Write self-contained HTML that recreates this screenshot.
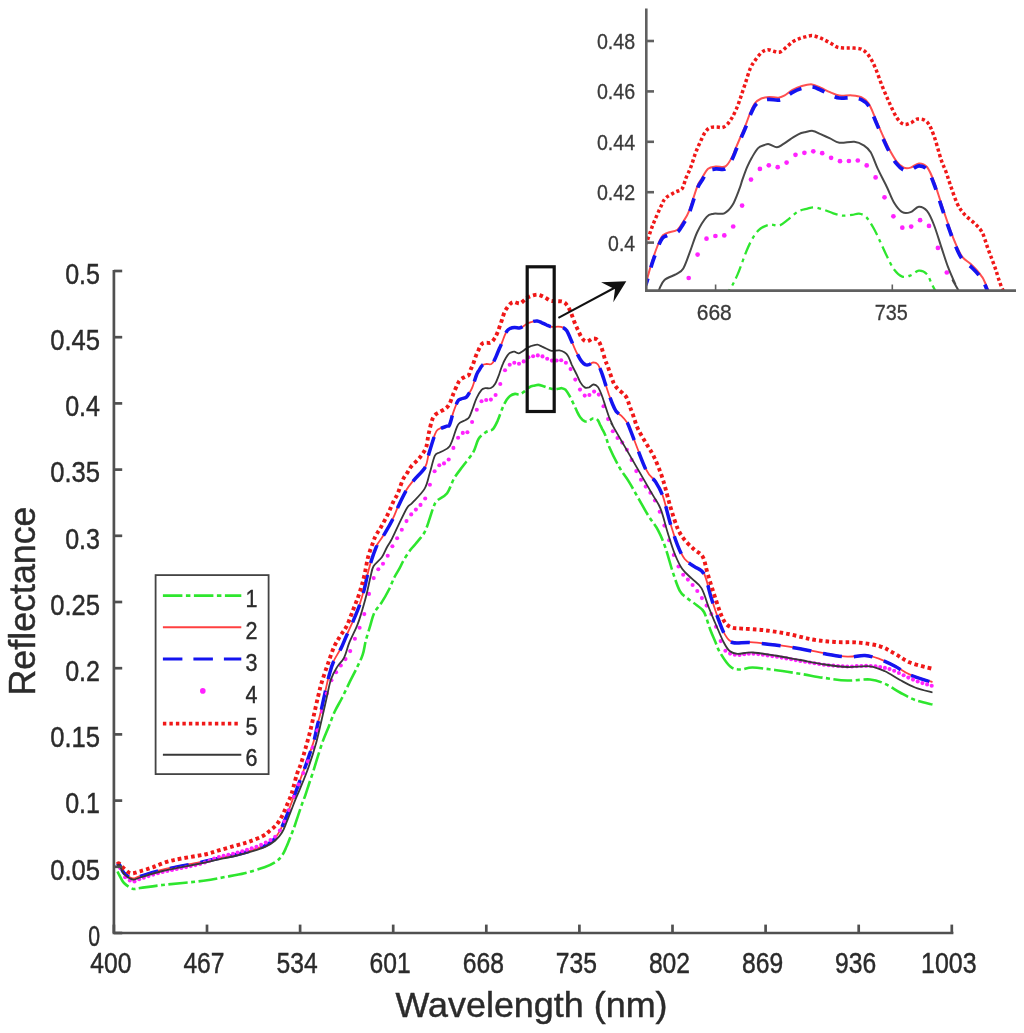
<!DOCTYPE html>
<html><head><meta charset="utf-8"><title>Reflectance</title>
<style>html,body{margin:0;padding:0;background:#fff}body{width:1024px;height:1033px;position:relative;overflow:hidden;font-family:"Liberation Sans",sans-serif}</style>
</head><body>
<svg width="1024" height="1033" viewBox="0 0 1024 1033" style="position:absolute;left:0;top:0;filter:blur(0.55px)">
<defs><clipPath id="ic"><rect x="646" y="0" width="372" height="290.6"/></clipPath></defs>
<rect width="1024" height="1033" fill="#ffffff"/>
<g>
<path d="M117.5,871.5C117.8,872.2 118.4,873.6 119.5,875.5C120.6,877.4 121.8,880.8 124.0,883.0C126.2,885.2 129.8,887.9 132.5,888.7C135.2,889.5 135.0,888.6 140.0,888.0C145.0,887.4 151.9,886.2 162.5,885.0C173.1,883.8 193.3,882.1 203.5,880.8C213.7,879.5 216.6,878.6 223.4,877.3C230.2,876.0 237.7,874.9 244.5,873.2C251.3,871.5 259.2,869.2 264.5,867.3C269.8,865.3 273.3,863.5 276.2,861.5C279.1,859.5 280.3,858.1 282.0,855.6C283.8,853.1 285.1,849.8 286.7,846.3C288.3,842.8 290.0,838.0 291.4,834.5C292.8,831.0 293.7,828.5 294.9,825.2C296.1,821.9 297.2,818.1 298.4,814.6C299.6,811.1 300.8,807.4 302.0,804.1C303.2,800.8 304.3,798.1 305.5,794.7C306.7,791.4 307.7,787.9 309.0,784.0C310.3,780.1 311.8,776.0 313.3,771.3C314.8,766.6 316.3,761.2 318.0,755.9C319.7,750.6 321.6,744.5 323.4,739.6C325.2,734.7 326.9,731.2 328.8,726.4C330.7,721.6 332.8,715.7 335.0,711.0C337.2,706.3 339.6,702.8 342.0,698.0C344.4,693.2 347.1,687.3 349.5,682.4C351.9,677.5 354.3,673.1 356.5,668.5C358.7,663.9 361.2,659.2 362.7,654.6C364.3,650.0 364.5,645.5 365.8,640.6C367.1,635.7 369.0,629.7 370.4,625.1C371.8,620.5 372.4,616.7 374.3,612.8C376.2,608.9 379.6,605.8 382.0,601.9C384.5,598.0 386.9,593.6 389.0,589.5C391.1,585.4 392.6,580.8 394.4,577.2C396.2,573.6 398.3,570.7 399.8,567.9C401.3,565.1 401.8,563.3 403.6,560.3C405.4,557.3 408.5,552.6 410.5,549.8C412.5,547.0 413.4,546.6 415.7,543.7C418.0,540.8 422.2,536.6 424.5,532.4C426.8,528.2 428.2,522.6 429.7,518.5C431.1,514.4 432.0,510.9 433.2,508.0C434.4,505.1 434.4,503.5 436.7,501.0C439.0,498.5 444.2,497.0 447.1,493.2C450.0,489.4 451.5,482.9 454.1,478.4C456.7,473.9 459.6,470.5 462.8,466.2C466.0,461.9 470.6,456.8 473.2,452.3C475.8,447.8 476.5,442.3 478.5,439.0C480.5,435.7 483.5,433.9 485.4,432.5C487.3,431.1 488.7,431.1 490.0,430.5C491.3,429.9 492.1,430.3 493.4,428.6C494.7,427.0 496.1,424.1 497.7,420.6C499.2,417.1 501.2,411.1 502.6,407.7C504.1,404.3 505.1,402.3 506.3,400.3C507.6,398.3 508.6,397.1 510.0,396.0C511.5,394.9 513.3,394.2 515.0,393.9C516.6,393.6 518.3,394.9 519.9,394.4C521.6,393.9 523.2,392.3 524.8,391.1C526.5,389.8 528.1,387.9 529.8,387.0C531.4,386.1 533.3,385.9 534.7,385.5C536.2,385.2 537.0,384.8 538.4,384.9C539.9,385.0 541.7,385.7 543.4,386.2C545.0,386.7 546.7,387.5 548.3,388.0C550.0,388.5 551.6,389.1 553.2,389.2C554.9,389.4 556.8,389.0 558.2,388.8C559.6,388.7 560.6,388.0 561.9,388.2C563.1,388.4 564.3,388.7 565.6,389.8C566.8,391.0 568.1,393.2 569.3,395.4C570.5,397.5 571.8,400.2 573.0,402.8C574.2,405.3 575.5,408.3 576.7,410.8C577.9,413.2 579.0,415.8 580.4,417.5C581.7,419.3 583.2,420.7 584.7,421.3C586.1,421.8 587.6,421.1 589.1,420.6C590.5,420.1 592.0,418.3 593.4,418.2C594.8,418.1 596.6,418.9 597.7,420.0C598.8,421.1 599.4,423.5 600.1,424.9C600.9,426.4 601.2,426.9 602.0,428.6C602.9,430.4 604.1,432.3 605.4,435.5C606.7,438.7 607.4,442.8 609.7,448.1C612.0,453.4 616.2,461.8 619.4,467.4C622.6,473.0 625.8,476.6 629.0,481.9C632.2,487.1 635.5,493.2 638.7,498.9C641.9,504.5 645.2,510.6 648.4,515.8C651.6,521.0 655.3,525.0 658.1,530.3C660.9,535.5 662.9,540.4 665.3,547.3C667.7,554.2 670.2,564.2 672.6,571.5C675.0,578.8 677.4,586.4 679.8,590.8C682.2,595.2 684.3,595.7 687.1,598.1C689.9,600.5 694.0,603.0 696.8,605.3C699.6,607.6 701.8,608.0 704.0,612.0C706.2,616.0 708.2,624.2 710.0,629.0C711.8,633.8 713.3,637.1 715.0,641.0C716.7,644.9 717.5,648.3 720.0,652.5C722.5,656.7 726.7,663.5 730.0,666.3C733.3,669.1 736.2,669.3 740.0,669.5C743.8,669.7 746.7,667.4 752.5,667.5C758.3,667.6 767.1,669.0 775.0,670.0C782.9,671.0 791.7,672.5 800.0,673.8C808.3,675.1 817.1,676.9 825.0,678.0C832.9,679.1 840.0,680.2 847.5,680.5C855.0,680.8 863.8,679.0 870.0,679.5C876.2,680.0 880.0,681.6 885.0,683.8C890.0,686.0 895.0,689.8 900.0,692.5C905.0,695.2 909.6,698.0 915.0,700.0C920.4,702.0 929.6,703.8 932.5,704.5" fill="none" stroke="#2ee62e" stroke-width="2.6" stroke-dasharray="19 3.5 4 3.5" stroke-linejoin="round"/>
<path d="M117.3,865.6C117.6,865.4 118.2,862.9 119.3,864.1C120.4,865.3 121.8,870.2 124.0,872.6C126.2,875.0 129.8,877.7 132.5,878.3C135.2,878.9 135.0,877.6 140.0,876.1C145.0,874.6 152.5,871.9 162.5,869.6C172.5,867.3 190.8,864.0 200.0,862.1C209.2,860.2 211.7,859.5 217.6,858.2C223.5,857.0 229.3,856.0 235.2,854.6C241.0,853.2 247.6,851.4 252.7,849.8C257.8,848.2 262.1,846.9 265.6,845.1C269.2,843.3 271.6,841.5 274.0,839.1C276.4,836.7 278.2,833.7 280.0,830.6C281.8,827.5 283.0,824.1 284.5,820.6C286.0,817.1 287.7,813.0 289.0,809.6C290.3,806.2 291.0,803.9 292.4,800.3C293.8,796.7 295.6,792.1 297.1,788.0C298.7,783.9 300.2,779.7 301.7,775.6C303.2,771.5 304.9,767.3 306.4,763.2C307.9,759.1 309.3,754.7 310.6,750.8C311.9,746.9 313.0,744.1 314.1,740.0C315.2,735.9 316.2,730.4 317.2,726.0C318.2,721.6 319.3,718.1 320.3,713.7C321.3,709.3 322.3,704.6 323.4,699.7C324.5,694.9 325.8,689.0 326.8,684.6C327.8,680.2 328.4,677.4 329.5,673.6C330.6,669.8 331.4,666.2 333.3,661.9C335.2,657.6 338.8,652.4 341.0,648.0C343.2,643.6 344.3,640.2 346.4,635.6C348.5,631.0 351.2,625.3 353.4,620.1C355.6,614.9 357.8,609.8 359.6,604.6C361.4,599.4 362.9,594.0 364.2,589.1C365.5,584.2 366.0,580.4 367.3,575.2C368.6,570.1 370.4,563.1 372.0,558.2C373.6,553.3 375.7,548.1 376.6,545.8C377.5,543.5 376.1,546.2 377.4,544.2C378.7,542.2 381.8,538.1 384.4,533.7C387.0,529.4 390.8,522.7 393.1,518.1C395.4,513.5 396.1,510.6 398.3,505.9C400.5,501.3 403.6,494.6 406.2,490.2C408.8,485.8 410.8,483.6 414.0,479.7C417.2,475.8 422.8,471.1 425.3,466.7C427.8,462.4 427.2,459.0 428.8,453.6C430.4,448.2 433.3,438.5 434.9,434.4C436.5,430.3 436.4,430.7 438.4,429.2C440.4,427.8 445.2,426.4 447.1,425.7C449.0,425.0 448.5,427.1 449.5,424.9C450.6,422.8 451.9,416.5 453.2,412.6C454.6,408.8 456.3,403.8 457.5,401.6C458.8,399.3 459.2,399.8 460.6,399.1C462.1,398.4 464.7,398.3 466.2,397.3C467.6,396.2 468.3,394.6 469.3,392.9C470.3,391.3 471.1,390.5 472.3,387.4C473.6,384.3 475.5,377.3 476.7,374.5C477.8,371.6 478.1,371.7 479.1,370.2C480.0,368.7 481.1,366.3 482.4,365.3C483.6,364.2 485.0,364.2 486.5,364.0C488.0,363.8 490.0,364.8 491.4,364.0C492.8,363.3 493.8,361.2 494.7,359.5C495.7,357.8 496.4,355.7 497.2,353.8C498.0,351.8 498.8,349.9 499.6,348.0C500.5,346.1 501.3,344.3 502.1,342.3C502.9,340.2 503.8,337.6 504.6,335.7C505.4,333.8 506.1,332.0 507.1,330.8C508.0,329.6 509.2,328.9 510.4,328.3C511.6,327.8 513.0,327.6 514.5,327.5C516.0,327.4 518.0,328.0 519.4,327.9C520.8,327.8 521.5,327.4 522.7,326.7C524.0,326.0 525.3,324.6 526.8,323.8C528.3,323.0 530.1,322.2 531.8,321.8C533.5,321.3 535.5,320.8 537.1,320.9C538.8,321.1 540.1,321.9 541.6,322.6C543.2,323.3 544.9,324.3 546.6,325.0C548.2,325.7 549.6,326.5 551.6,326.8C553.5,327.1 556.3,326.6 558.2,326.7C560.1,326.8 561.7,327.0 563.1,327.6C564.5,328.3 565.6,328.9 566.8,330.7C568.1,332.6 569.3,336.0 570.5,338.7C571.8,341.5 573.0,344.6 574.2,347.3C575.4,350.1 576.7,352.9 578.0,355.3C579.2,357.6 580.4,359.8 581.6,361.3C582.9,362.9 584.1,364.0 585.3,364.6C586.6,365.1 587.7,365.0 589.1,364.6C590.4,364.3 592.0,362.5 593.4,362.4C594.8,362.4 596.4,362.7 597.7,364.3C599.0,365.9 600.2,368.9 601.4,372.0C602.6,375.1 603.9,379.4 605.1,383.1C606.3,386.8 607.6,390.7 608.8,394.2C610.1,397.6 611.3,401.1 612.5,404.0C613.7,406.9 614.8,409.4 616.2,411.4C617.6,413.3 619.5,414.0 621.2,415.7C622.8,417.3 624.7,419.1 626.1,421.3C627.6,423.4 626.5,420.6 629.8,428.6C633.1,436.6 641.7,460.6 646.0,469.4C650.3,478.2 652.8,477.1 655.6,481.5C658.4,486.0 660.5,489.2 662.9,496.1C665.3,503.0 667.8,514.7 670.2,522.7C672.6,530.8 675.0,538.4 677.4,544.4C679.8,550.5 681.9,555.4 684.7,559.0C687.5,562.6 691.2,563.8 694.4,566.2C697.6,568.6 701.2,568.2 704.0,573.5C706.8,578.8 708.9,590.0 711.3,597.7C713.7,605.4 716.3,613.4 718.6,619.5C720.9,625.6 722.7,630.8 725.0,634.6C727.3,638.4 728.3,640.9 732.5,642.1C736.7,643.4 742.9,641.7 750.0,642.1C757.1,642.5 766.7,643.6 775.0,644.6C783.3,645.6 791.7,646.9 800.0,648.4C808.3,649.9 817.1,652.0 825.0,653.4C832.9,654.8 840.8,656.3 847.5,656.6C854.2,656.9 859.6,654.7 865.0,655.1C870.4,655.5 875.0,657.3 880.0,659.1C885.0,660.9 890.0,663.3 895.0,665.9C900.0,668.5 903.8,671.9 910.0,674.6C916.2,677.3 928.7,680.9 932.5,682.1" fill="none" stroke="#ff4040" stroke-width="1.8" stroke-linejoin="round"/>
<path d="M117.3,866.0C117.6,865.8 118.2,863.3 119.3,864.5C120.4,865.7 121.8,870.6 124.0,873.0C126.2,875.4 129.8,878.1 132.5,878.7C135.2,879.3 135.0,878.0 140.0,876.5C145.0,875.0 152.5,872.3 162.5,870.0C172.5,867.7 190.8,864.4 200.0,862.5C209.2,860.6 211.7,859.9 217.6,858.6C223.5,857.4 229.3,856.4 235.2,855.0C241.0,853.6 247.6,851.8 252.7,850.2C257.8,848.6 262.1,847.3 265.6,845.5C269.2,843.7 271.6,841.9 274.0,839.5C276.4,837.1 278.2,834.1 280.0,831.0C281.8,827.9 283.0,824.5 284.5,821.0C286.0,817.5 287.7,813.4 289.0,810.0C290.3,806.6 291.0,804.3 292.4,800.7C293.8,797.1 295.6,792.5 297.1,788.4C298.7,784.3 300.2,780.1 301.7,776.0C303.2,771.9 304.9,767.7 306.4,763.6C307.9,759.5 309.3,755.1 310.6,751.2C311.9,747.3 313.0,744.5 314.1,740.4C315.2,736.3 316.2,730.8 317.2,726.4C318.2,722.0 319.3,718.5 320.3,714.1C321.3,709.7 322.3,705.0 323.4,700.1C324.5,695.2 325.8,689.4 326.8,685.0C327.8,680.6 328.4,677.8 329.5,674.0C330.6,670.2 331.4,666.6 333.3,662.3C335.2,658.0 338.8,652.8 341.0,648.4C343.2,644.0 344.3,640.6 346.4,636.0C348.5,631.4 351.2,625.7 353.4,620.5C355.6,615.3 357.8,610.2 359.6,605.0C361.4,599.8 362.9,594.4 364.2,589.5C365.5,584.6 366.0,580.8 367.3,575.6C368.6,570.5 370.4,563.5 372.0,558.6C373.6,553.7 375.7,548.5 376.6,546.2C377.5,543.9 376.1,546.6 377.4,544.6C378.7,542.6 381.8,538.5 384.4,534.1C387.0,529.8 390.8,523.1 393.1,518.5C395.4,513.9 396.1,510.9 398.3,506.3C400.5,501.7 403.6,495.0 406.2,490.6C408.8,486.2 410.8,484.0 414.0,480.1C417.2,476.2 422.8,471.5 425.3,467.1C427.8,462.8 427.2,459.4 428.8,454.0C430.4,448.6 433.3,438.9 434.9,434.8C436.5,430.7 436.4,431.1 438.4,429.6C440.4,428.2 445.2,426.9 447.1,426.1C449.0,425.3 448.5,427.2 449.5,424.9C450.6,422.7 451.9,416.5 453.2,412.6C454.6,408.8 456.3,403.8 457.5,401.6C458.8,399.3 459.2,399.8 460.6,399.1C462.1,398.4 464.7,398.3 466.2,397.3C467.6,396.2 468.3,394.6 469.3,392.9C470.3,391.3 471.1,390.5 472.3,387.4C473.6,384.3 475.5,377.3 476.7,374.5C477.8,371.6 478.1,371.7 479.1,370.2C480.0,368.7 481.1,366.3 482.4,365.3C483.6,364.2 485.0,364.2 486.5,364.0C488.0,363.8 490.0,364.8 491.4,364.0C492.8,363.3 493.8,361.2 494.7,359.5C495.7,357.8 496.4,355.7 497.2,353.8C498.0,351.8 498.8,349.9 499.6,348.0C500.5,346.1 501.3,344.3 502.1,342.3C502.9,340.2 503.8,337.6 504.6,335.7C505.4,333.8 506.1,332.0 507.1,330.8C508.0,329.6 509.2,328.9 510.4,328.3C511.6,327.8 513.0,327.6 514.5,327.5C516.0,327.4 518.0,328.0 519.4,327.9C520.8,327.8 521.5,327.4 522.7,326.7C524.0,326.0 525.3,324.6 526.8,323.8C528.3,323.0 530.1,322.2 531.8,321.8C533.5,321.3 535.5,320.8 537.1,320.9C538.8,321.1 540.1,321.9 541.6,322.6C543.2,323.3 544.9,324.3 546.6,325.0C548.2,325.7 549.6,326.5 551.6,326.8C553.5,327.1 556.3,326.6 558.2,326.7C560.1,326.8 561.7,327.0 563.1,327.6C564.5,328.3 565.6,328.9 566.8,330.7C568.1,332.6 569.3,336.0 570.5,338.7C571.8,341.5 573.0,344.6 574.2,347.3C575.4,350.1 576.7,352.9 578.0,355.3C579.2,357.6 580.4,359.8 581.6,361.3C582.9,362.9 584.1,364.0 585.3,364.6C586.6,365.1 587.7,365.0 589.1,364.6C590.4,364.3 592.0,362.5 593.4,362.4C594.8,362.4 596.4,362.7 597.7,364.3C599.0,365.9 600.2,368.9 601.4,372.0C602.6,375.1 603.9,379.4 605.1,383.1C606.3,386.8 607.6,390.7 608.8,394.2C610.1,397.6 611.3,401.1 612.5,404.0C613.7,406.9 614.8,409.4 616.2,411.4C617.6,413.3 619.5,414.0 621.2,415.7C622.8,417.3 624.7,419.1 626.1,421.3C627.6,423.4 626.5,420.5 629.8,428.6C633.1,436.7 641.7,460.9 646.0,469.8C650.3,478.7 652.8,477.4 655.6,481.9C658.4,486.3 660.5,489.6 662.9,496.5C665.3,503.4 667.8,515.1 670.2,523.1C672.6,531.1 675.0,538.8 677.4,544.8C679.8,550.8 681.9,555.8 684.7,559.4C687.5,563.0 691.2,564.2 694.4,566.6C697.6,569.0 701.2,568.6 704.0,573.9C706.8,579.1 708.9,590.4 711.3,598.1C713.7,605.8 716.3,613.8 718.6,619.9C720.9,626.0 722.7,631.2 725.0,635.0C727.3,638.8 728.3,641.2 732.5,642.5C736.7,643.8 742.9,642.1 750.0,642.5C757.1,642.9 766.7,644.0 775.0,645.0C783.3,646.0 791.7,647.3 800.0,648.8C808.3,650.3 817.1,652.4 825.0,653.8C832.9,655.2 840.8,656.7 847.5,657.0C854.2,657.3 859.6,655.1 865.0,655.5C870.4,655.9 875.0,657.7 880.0,659.5C885.0,661.3 890.0,663.7 895.0,666.3C900.0,668.9 903.8,672.3 910.0,675.0C916.2,677.7 928.7,681.2 932.5,682.5" fill="none" stroke="#1414f0" stroke-width="3.5" stroke-dasharray="19 12" stroke-linejoin="round"/>
<g fill="#ff22ff"><circle cx="120.4" cy="868.3" r="2.05"/><circle cx="125.1" cy="877.2" r="2.05"/><circle cx="129.8" cy="880.5" r="2.05"/><circle cx="134.5" cy="881.4" r="2.05"/><circle cx="139.2" cy="879.3" r="2.05"/><circle cx="143.8" cy="877.7" r="2.05"/><circle cx="148.5" cy="876.1" r="2.05"/><circle cx="153.2" cy="874.6" r="2.05"/><circle cx="157.9" cy="873.2" r="2.05"/><circle cx="162.6" cy="872.0" r="2.05"/><circle cx="167.3" cy="870.9" r="2.05"/><circle cx="172.0" cy="869.9" r="2.05"/><circle cx="176.7" cy="868.9" r="2.05"/><circle cx="181.4" cy="868.0" r="2.05"/><circle cx="186.1" cy="867.1" r="2.05"/><circle cx="190.7" cy="866.1" r="2.05"/><circle cx="195.4" cy="865.1" r="2.05"/><circle cx="200.1" cy="864.0" r="2.05"/><circle cx="204.8" cy="862.5" r="2.05"/><circle cx="209.5" cy="860.7" r="2.05"/><circle cx="214.2" cy="858.6" r="2.05"/><circle cx="218.9" cy="857.0" r="2.05"/><circle cx="223.6" cy="855.9" r="2.05"/><circle cx="228.3" cy="854.9" r="2.05"/><circle cx="233.0" cy="853.9" r="2.05"/><circle cx="237.6" cy="852.6" r="2.05"/><circle cx="242.3" cy="851.3" r="2.05"/><circle cx="247.0" cy="849.9" r="2.05"/><circle cx="251.7" cy="848.3" r="2.05"/><circle cx="256.4" cy="846.7" r="2.05"/><circle cx="261.1" cy="844.8" r="2.05"/><circle cx="265.8" cy="842.6" r="2.05"/><circle cx="270.5" cy="840.1" r="2.05"/><circle cx="275.2" cy="836.7" r="2.05"/><circle cx="279.9" cy="830.5" r="2.05"/><circle cx="284.5" cy="821.5" r="2.05"/><circle cx="289.2" cy="810.2" r="2.05"/><circle cx="293.9" cy="796.7" r="2.05"/><circle cx="298.6" cy="784.5" r="2.05"/><circle cx="303.3" cy="773.1" r="2.05"/><circle cx="308.0" cy="761.4" r="2.05"/><circle cx="312.7" cy="747.6" r="2.05"/><circle cx="317.4" cy="730.4" r="2.05"/><circle cx="322.1" cy="711.8" r="2.05"/><circle cx="326.8" cy="693.6" r="2.05"/><circle cx="331.4" cy="680.2" r="2.05"/><circle cx="336.1" cy="672.2" r="2.05"/><circle cx="340.8" cy="665.5" r="2.05"/><circle cx="345.5" cy="659.1" r="2.05"/><circle cx="350.2" cy="651.1" r="2.05"/><circle cx="354.9" cy="638.8" r="2.05"/><circle cx="359.6" cy="627.7" r="2.05"/><circle cx="364.3" cy="614.1" r="2.05"/><circle cx="369.0" cy="593.9" r="2.05"/><circle cx="373.7" cy="578.1" r="2.05"/><circle cx="378.3" cy="569.2" r="2.05"/><circle cx="383.0" cy="563.7" r="2.05"/><circle cx="387.7" cy="555.7" r="2.05"/><circle cx="392.4" cy="546.3" r="2.05"/><circle cx="397.1" cy="538.3" r="2.05"/><circle cx="401.8" cy="529.8" r="2.05"/><circle cx="406.5" cy="521.1" r="2.05"/><circle cx="411.2" cy="514.4" r="2.05"/><circle cx="415.9" cy="509.6" r="2.05"/><circle cx="420.5" cy="504.9" r="2.05"/><circle cx="425.2" cy="498.5" r="2.05"/><circle cx="429.9" cy="484.7" r="2.05"/><circle cx="434.6" cy="471.2" r="2.05"/><circle cx="439.3" cy="465.3" r="2.05"/><circle cx="444.0" cy="463.4" r="2.05"/><circle cx="448.7" cy="459.5" r="2.05"/><circle cx="453.4" cy="447.9" r="2.05"/><circle cx="458.1" cy="437.7" r="2.05"/><circle cx="462.8" cy="432.9" r="2.05"/><circle cx="467.4" cy="432.3" r="2.05"/><circle cx="472.1" cy="422.0" r="2.05"/><circle cx="476.8" cy="409.7" r="2.05"/><circle cx="481.5" cy="401.3" r="2.05"/><circle cx="486.2" cy="400.0" r="2.05"/><circle cx="490.9" cy="399.6" r="2.05"/><circle cx="495.6" cy="395.0" r="2.05"/><circle cx="500.3" cy="384.0" r="2.05"/><circle cx="505.0" cy="370.3" r="2.05"/><circle cx="509.7" cy="364.7" r="2.05"/><circle cx="514.3" cy="362.8" r="2.05"/><circle cx="519.0" cy="363.8" r="2.05"/><circle cx="523.7" cy="361.4" r="2.05"/><circle cx="528.4" cy="357.2" r="2.05"/><circle cx="533.1" cy="356.2" r="2.05"/><circle cx="537.8" cy="355.4" r="2.05"/><circle cx="542.5" cy="356.4" r="2.05"/><circle cx="547.2" cy="358.8" r="2.05"/><circle cx="551.9" cy="360.6" r="2.05"/><circle cx="556.6" cy="360.5" r="2.05"/><circle cx="561.2" cy="360.3" r="2.05"/><circle cx="565.9" cy="362.8" r="2.05"/><circle cx="570.6" cy="369.1" r="2.05"/><circle cx="575.3" cy="379.6" r="2.05"/><circle cx="580.0" cy="389.6" r="2.05"/><circle cx="584.7" cy="395.6" r="2.05"/><circle cx="589.4" cy="395.0" r="2.05"/><circle cx="594.1" cy="391.6" r="2.05"/><circle cx="598.8" cy="394.6" r="2.05"/><circle cx="603.5" cy="406.2" r="2.05"/><circle cx="608.1" cy="419.1" r="2.05"/><circle cx="612.8" cy="431.2" r="2.05"/><circle cx="617.5" cy="438.0" r="2.05"/><circle cx="622.2" cy="442.6" r="2.05"/><circle cx="626.9" cy="449.7" r="2.05"/><circle cx="631.6" cy="459.9" r="2.05"/><circle cx="636.3" cy="471.1" r="2.05"/><circle cx="641.0" cy="479.7" r="2.05"/><circle cx="645.7" cy="486.6" r="2.05"/><circle cx="650.4" cy="492.8" r="2.05"/><circle cx="655.0" cy="500.5" r="2.05"/><circle cx="659.7" cy="511.7" r="2.05"/><circle cx="664.4" cy="525.6" r="2.05"/><circle cx="669.1" cy="540.3" r="2.05"/><circle cx="673.8" cy="555.0" r="2.05"/><circle cx="678.5" cy="566.5" r="2.05"/><circle cx="683.2" cy="574.7" r="2.05"/><circle cx="687.9" cy="579.6" r="2.05"/><circle cx="692.6" cy="585.0" r="2.05"/><circle cx="697.3" cy="591.0" r="2.05"/><circle cx="701.9" cy="598.1" r="2.05"/><circle cx="706.6" cy="605.6" r="2.05"/><circle cx="711.3" cy="614.1" r="2.05"/><circle cx="716.0" cy="626.7" r="2.05"/><circle cx="720.7" cy="641.1" r="2.05"/><circle cx="725.4" cy="650.7" r="2.05"/><circle cx="730.1" cy="653.6" r="2.05"/><circle cx="734.8" cy="654.7" r="2.05"/><circle cx="739.5" cy="655.0" r="2.05"/><circle cx="744.2" cy="654.3" r="2.05"/><circle cx="748.8" cy="653.8" r="2.05"/><circle cx="753.5" cy="653.8" r="2.05"/><circle cx="758.2" cy="654.1" r="2.05"/><circle cx="762.9" cy="654.7" r="2.05"/><circle cx="767.6" cy="655.4" r="2.05"/><circle cx="772.3" cy="656.1" r="2.05"/><circle cx="777.0" cy="656.8" r="2.05"/><circle cx="781.7" cy="657.6" r="2.05"/><circle cx="786.4" cy="658.4" r="2.05"/><circle cx="791.1" cy="659.2" r="2.05"/><circle cx="795.7" cy="660.1" r="2.05"/><circle cx="800.4" cy="660.9" r="2.05"/><circle cx="805.1" cy="661.7" r="2.05"/><circle cx="809.8" cy="662.5" r="2.05"/><circle cx="814.5" cy="663.3" r="2.05"/><circle cx="819.2" cy="664.0" r="2.05"/><circle cx="823.9" cy="664.7" r="2.05"/><circle cx="828.6" cy="665.2" r="2.05"/><circle cx="833.3" cy="665.6" r="2.05"/><circle cx="838.0" cy="666.0" r="2.05"/><circle cx="842.6" cy="666.3" r="2.05"/><circle cx="847.3" cy="666.5" r="2.05"/><circle cx="852.0" cy="666.5" r="2.05"/><circle cx="856.7" cy="666.1" r="2.05"/><circle cx="861.4" cy="666.0" r="2.05"/><circle cx="866.1" cy="665.9" r="2.05"/><circle cx="870.8" cy="666.0" r="2.05"/><circle cx="875.5" cy="666.3" r="2.05"/><circle cx="880.2" cy="667.0" r="2.05"/><circle cx="884.9" cy="667.9" r="2.05"/><circle cx="889.5" cy="669.1" r="2.05"/><circle cx="894.2" cy="670.8" r="2.05"/><circle cx="898.9" cy="673.0" r="2.05"/><circle cx="903.6" cy="675.3" r="2.05"/><circle cx="908.3" cy="677.6" r="2.05"/><circle cx="913.0" cy="679.6" r="2.05"/><circle cx="917.7" cy="681.5" r="2.05"/><circle cx="922.4" cy="683.1" r="2.05"/><circle cx="927.1" cy="684.4" r="2.05"/><circle cx="931.7" cy="685.7" r="2.05"/></g>
<path d="M117.3,864.5C117.6,864.3 118.1,862.7 119.2,863.4C120.3,864.1 122.1,866.9 124.0,868.5C125.9,870.1 128.1,872.7 130.8,873.2C133.5,873.7 136.3,872.3 140.0,871.3C143.6,870.3 148.2,868.9 152.7,867.3C157.1,865.7 161.8,863.4 166.7,861.9C171.6,860.4 175.7,859.6 182.0,858.4C188.3,857.2 198.6,855.8 204.7,854.5C210.8,853.2 213.7,851.9 218.8,850.4C223.9,848.9 230.1,847.2 235.2,845.7C240.3,844.2 244.5,843.3 249.2,841.6C253.9,839.9 259.8,837.6 263.3,835.7C266.8,833.8 268.1,832.1 270.3,830.4C272.4,828.6 274.4,827.2 276.2,825.2C278.0,823.2 279.5,820.5 280.9,818.1C282.3,815.8 283.2,813.6 284.4,811.1C285.6,808.6 286.8,805.4 287.9,802.9C289.0,800.4 289.9,798.4 290.8,795.9C291.7,793.4 292.2,791.6 293.2,788.0C294.2,784.4 295.7,778.1 297.0,774.0C298.3,769.9 299.6,767.9 301.0,763.6C302.4,759.3 304.1,753.5 305.6,748.1C307.1,742.7 308.8,736.8 310.2,731.1C311.6,725.4 312.8,719.8 314.1,714.1C315.4,708.4 316.7,702.3 318.0,697.0C319.3,691.7 320.0,687.9 321.7,682.4C323.4,676.9 325.8,669.7 327.9,663.8C330.0,657.9 332.1,651.4 334.1,646.8C336.2,642.2 338.2,639.4 340.2,636.0C342.2,632.6 344.3,630.8 346.4,626.7C348.5,622.6 350.7,616.1 352.6,611.2C354.5,606.3 356.4,601.7 358.0,597.3C359.6,592.9 360.7,589.0 361.9,584.9C363.1,580.8 364.0,577.1 365.0,572.5C366.0,567.9 366.8,561.9 368.1,557.0C369.4,552.1 371.5,546.6 372.8,543.1C374.1,539.6 374.3,538.5 375.7,535.9C377.0,533.2 378.9,530.8 380.9,527.2C382.9,523.6 385.7,518.6 387.9,514.1C390.1,509.6 392.4,503.5 394.0,500.2C395.6,496.9 396.1,497.4 397.5,494.1C398.9,490.8 401.1,483.6 402.7,480.1C404.3,476.6 405.6,475.5 407.0,473.2C408.4,470.9 409.6,468.4 411.4,466.2C413.1,464.0 415.8,462.0 417.5,460.1C419.2,458.2 420.3,457.1 421.8,454.9C423.2,452.7 425.0,450.6 426.2,447.0C427.4,443.4 427.6,438.0 428.8,433.1C430.0,428.2 431.4,420.9 433.2,417.4C434.9,413.9 437.3,413.7 439.3,412.2C441.3,410.8 443.7,410.1 445.4,408.7C447.1,407.3 448.2,406.4 449.5,404.0C450.8,401.6 451.9,397.4 453.2,394.2C454.6,390.9 456.4,386.6 457.5,384.3C458.7,381.9 458.8,381.2 460.0,380.0C461.3,378.7 463.5,377.7 465.0,376.9C466.4,376.1 467.7,376.3 468.7,375.1C469.6,373.8 469.9,371.4 470.7,369.5C471.5,367.6 472.5,365.8 473.3,363.6C474.1,361.4 474.9,358.4 475.8,356.2C476.6,354.0 477.4,352.3 478.3,350.5C479.1,348.7 479.9,346.8 480.7,345.6C481.6,344.3 482.2,343.6 483.2,343.1C484.2,342.6 485.4,342.7 486.5,342.7C487.6,342.6 488.8,343.1 489.8,342.9C490.8,342.7 491.4,342.3 492.3,341.5C493.1,340.7 493.9,339.5 494.7,338.1C495.6,336.8 496.4,335.2 497.2,333.3C498.0,331.4 498.8,329.0 499.6,326.7C500.5,324.4 501.3,321.8 502.1,319.3C502.9,316.8 503.8,313.8 504.6,311.9C505.4,310.0 506.1,309.1 507.1,307.8C508.0,306.4 509.3,304.6 510.4,303.7C511.5,302.7 512.6,302.2 513.7,302.1C514.8,301.9 515.9,302.7 517.0,302.9C518.1,303.1 519.2,303.6 520.2,303.3C521.3,302.9 522.5,301.7 523.6,300.8C524.7,299.9 525.7,298.7 526.8,298.0C527.9,297.2 529.1,296.8 530.2,296.3C531.3,295.9 532.3,295.6 533.4,295.3C534.6,295.0 535.9,294.6 537.1,294.6C538.4,294.7 539.7,295.2 540.9,295.6C542.0,296.1 543.0,296.6 544.1,297.1C545.2,297.7 546.3,298.3 547.4,299.0C548.5,299.6 549.5,300.4 550.7,300.8C551.9,301.2 553.3,301.1 554.5,301.2C555.7,301.2 556.8,301.1 558.2,301.2C559.6,301.3 561.7,301.2 563.1,301.8C564.5,302.4 565.6,303.2 566.8,304.9C568.1,306.5 569.3,308.9 570.5,311.7C571.8,314.4 573.0,318.4 574.2,321.5C575.4,324.6 576.7,327.4 578.0,330.1C579.2,332.8 580.4,335.7 581.6,337.5C582.9,339.4 584.1,340.7 585.3,341.2C586.6,341.7 587.8,341.0 589.1,340.6C590.3,340.1 591.3,338.6 592.8,338.5C594.2,338.4 596.3,338.5 597.7,340.0C599.2,341.5 600.2,344.1 601.4,347.3C602.6,350.6 604.1,356.6 605.1,359.7C606.1,362.8 606.7,363.5 607.6,365.8C608.4,368.0 609.0,370.4 610.0,373.2C611.1,376.1 612.5,380.5 613.7,383.1C615.0,385.6 616.0,386.9 617.5,388.6C618.9,390.2 620.8,391.4 622.4,392.9C623.9,394.5 625.5,395.6 626.7,397.8C627.9,400.1 628.7,403.4 629.8,406.4C630.9,409.5 632.2,412.6 633.5,416.3C634.8,420.0 635.7,424.1 637.8,428.6C639.9,433.1 643.2,438.4 646.0,443.2C648.8,448.0 651.6,451.6 654.4,457.7C657.2,463.7 660.3,471.4 662.9,479.5C665.5,487.6 667.8,498.0 670.2,506.1C672.6,514.2 675.0,522.2 677.4,527.9C679.8,533.5 681.9,536.4 684.7,540.0C687.5,543.6 691.4,546.9 694.4,549.7C697.4,552.5 700.6,552.9 702.8,556.9C705.0,560.9 705.5,566.6 707.7,573.9C709.9,581.2 713.5,592.8 716.1,600.5C718.7,608.2 721.0,615.5 723.4,619.9C725.8,624.3 727.6,625.6 730.7,627.1C733.8,628.6 736.7,628.1 742.0,628.6C747.3,629.1 754.9,629.1 762.5,630.0C770.1,630.9 779.2,632.2 787.5,633.8C795.8,635.4 804.6,638.1 812.5,639.5C820.4,640.9 827.5,641.5 835.0,642.0C842.5,642.5 850.0,641.8 857.5,642.5C865.0,643.2 873.7,644.4 880.0,646.3C886.2,648.2 890.0,651.1 895.0,653.8C900.0,656.5 903.8,660.0 910.0,662.5C916.2,665.0 928.7,667.8 932.5,668.8" fill="none" stroke="#f01818" stroke-width="3.9" stroke-dasharray="3.6 3.1" stroke-linejoin="round"/>
<path d="M117.3,866.5C117.6,866.2 118.2,863.8 119.3,865.0C120.4,866.2 121.8,871.6 124.0,874.0C126.2,876.4 129.8,878.9 132.5,879.5C135.2,880.1 135.0,878.9 140.0,877.5C145.0,876.1 152.5,873.3 162.5,871.0C172.5,868.7 190.8,865.4 200.0,863.5C209.2,861.6 211.7,860.9 217.6,859.6C223.5,858.4 229.3,857.4 235.2,856.0C241.0,854.6 247.6,852.8 252.7,851.2C257.8,849.6 261.9,848.3 265.6,846.6C269.3,844.9 272.3,843.1 275.0,840.8C277.7,838.4 280.1,835.6 282.0,832.5C284.0,829.4 285.1,825.8 286.7,822.0C288.3,818.2 289.9,813.8 291.4,810.0C292.9,806.2 294.0,803.0 295.5,799.4C297.0,795.8 298.0,793.8 300.2,788.4C302.4,783.0 306.0,774.5 308.7,766.7C311.4,759.0 314.2,749.9 316.4,741.9C318.6,733.9 320.2,725.9 321.9,718.7C323.6,711.5 325.0,705.2 326.5,698.6C328.0,692.0 329.2,684.6 331.0,679.3C332.8,674.0 335.0,670.5 337.2,666.9C339.4,663.3 342.1,661.7 344.1,657.6C346.2,653.5 347.3,647.6 349.5,642.2C351.7,636.8 355.2,630.3 357.3,625.1C359.4,619.9 360.3,616.4 361.9,611.2C363.4,606.1 365.2,599.9 366.6,594.2C368.0,588.5 369.3,581.9 370.4,577.2C371.6,572.6 371.6,569.7 373.5,566.3C375.4,562.9 379.8,560.1 382.0,557.0C384.2,553.9 385.2,550.5 386.7,547.7C388.2,544.9 389.4,543.7 391.3,540.0C393.2,536.3 395.7,530.7 398.3,525.4C400.9,520.1 404.7,511.8 407.0,508.0C409.3,504.2 409.4,506.0 412.3,502.8C415.2,499.6 421.6,493.8 424.5,488.9C427.4,484.0 428.0,478.7 429.7,473.2C431.4,467.7 433.2,459.2 434.9,455.7C436.6,452.2 437.6,453.9 440.1,452.3C442.6,450.7 447.0,450.1 449.7,446.2C452.4,442.3 454.7,432.5 456.3,428.6C457.9,424.8 457.8,424.5 459.4,423.1C460.9,421.7 463.9,421.0 465.6,420.0C467.2,419.0 468.1,419.0 469.3,417.0C470.5,414.9 471.8,410.9 473.0,407.7C474.2,404.5 475.2,400.8 476.7,397.8C478.1,394.9 480.2,391.4 481.6,389.8C483.1,388.2 483.8,388.5 485.3,388.2C486.9,387.9 489.2,388.8 490.9,388.0C492.5,387.3 493.9,385.9 495.2,383.7C496.6,381.5 498.0,377.3 498.9,375.1C499.8,372.8 499.8,372.1 500.5,370.2C501.2,368.3 502.1,365.5 503.0,363.6C503.8,361.7 504.5,360.3 505.4,358.7C506.4,357.0 507.6,354.8 508.7,353.8C509.8,352.7 511.1,352.5 512.0,352.1C513.0,351.8 513.4,351.5 514.5,351.7C515.6,351.9 517.4,353.3 518.6,353.3C519.8,353.3 520.7,352.4 521.9,351.7C523.1,351.0 524.6,349.7 526.0,348.9C527.4,348.0 528.9,347.0 530.2,346.4C531.4,345.8 532.2,345.7 533.4,345.4C534.7,345.1 536.2,344.5 537.5,344.7C538.9,344.9 540.1,345.7 541.6,346.4C543.2,347.1 544.9,347.9 546.6,348.7C548.2,349.4 549.4,350.6 551.6,350.9C553.7,351.2 557.3,350.2 559.4,350.4C561.5,350.7 562.9,351.4 564.4,352.3C565.8,353.2 566.8,353.9 568.0,356.0C569.3,358.0 570.3,361.5 571.7,364.6C573.2,367.7 575.2,371.5 576.7,374.5C578.1,377.4 579.0,380.3 580.4,382.4C581.7,384.6 583.2,386.6 584.7,387.4C586.1,388.2 587.6,387.8 589.1,387.4C590.5,386.9 592.0,384.6 593.4,384.5C594.8,384.4 596.4,385.1 597.7,386.7C599.0,388.3 600.2,391.1 601.4,394.2C602.6,397.2 603.9,401.5 605.1,405.2C606.3,408.9 607.6,413.0 608.8,416.3C610.1,419.6 611.6,422.9 612.5,424.9C613.4,427.0 608.0,417.5 614.4,428.6C620.7,439.7 643.1,478.3 650.8,491.6C658.5,504.9 657.7,501.7 660.5,508.6C663.3,515.5 665.3,525.1 667.7,532.8C670.1,540.4 672.6,548.5 675.0,554.5C677.4,560.5 679.5,565.0 682.3,569.0C685.1,573.0 688.7,575.5 691.9,578.7C695.1,581.9 698.8,583.6 701.6,588.4C704.4,593.3 706.7,602.1 708.9,607.8C711.1,613.5 712.5,616.7 715.0,622.5C717.5,628.3 721.3,637.7 723.8,642.5C726.3,647.3 727.7,649.4 730.0,651.3C732.3,653.2 733.8,653.6 737.5,653.8C741.2,654.0 746.2,652.2 752.5,652.5C758.8,652.8 767.1,654.2 775.0,655.5C782.9,656.8 791.7,658.5 800.0,660.0C808.3,661.5 817.1,663.3 825.0,664.5C832.9,665.7 840.0,666.7 847.5,667.0C855.0,667.3 863.8,665.6 870.0,666.3C876.2,667.0 880.0,669.0 885.0,671.3C890.0,673.6 895.0,677.3 900.0,680.0C905.0,682.7 909.6,685.4 915.0,687.5C920.4,689.6 929.6,691.7 932.5,692.5" fill="none" stroke="#383838" stroke-width="1.8" stroke-linejoin="round"/>
</g>
<g stroke="#505050" stroke-width="2.7" fill="none">
<path d="M113.9,270 V933 H953.4"/>
<path d="M113.9,933.0 H122.2"/>
<path d="M113.9,866.8 H122.2"/>
<path d="M113.9,800.6 H122.2"/>
<path d="M113.9,734.4 H122.2"/>
<path d="M113.9,668.2 H122.2"/>
<path d="M113.9,602.0 H122.2"/>
<path d="M113.9,535.8 H122.2"/>
<path d="M113.9,469.6 H122.2"/>
<path d="M113.9,403.4 H122.2"/>
<path d="M113.9,337.2 H122.2"/>
<path d="M113.9,271.0 H122.2"/>
<path d="M113.9,933 V924.6"/>
<path d="M207.0,933 V924.6"/>
<path d="M300.1,933 V924.6"/>
<path d="M393.2,933 V924.6"/>
<path d="M486.3,933 V924.6"/>
<path d="M579.4,933 V924.6"/>
<path d="M672.5,933 V924.6"/>
<path d="M765.6,933 V924.6"/>
<path d="M858.7,933 V924.6"/>
<path d="M951.8,933 V924.6"/>
</g>
<g font-family="Liberation Sans, sans-serif" fill="#2b2b2b" stroke="#2b2b2b" stroke-width="0.45">
<text x="100" y="935.2" font-size="29.5" text-anchor="end" dominant-baseline="central" textLength="11.8" lengthAdjust="spacingAndGlyphs">0</text>
<text x="100" y="869.0" font-size="29.5" text-anchor="end" dominant-baseline="central" textLength="49.8" lengthAdjust="spacingAndGlyphs">0.05</text>
<text x="100" y="802.8" font-size="29.5" text-anchor="end" dominant-baseline="central" textLength="34.8" lengthAdjust="spacingAndGlyphs">0.1</text>
<text x="100" y="736.6" font-size="29.5" text-anchor="end" dominant-baseline="central" textLength="49.8" lengthAdjust="spacingAndGlyphs">0.15</text>
<text x="100" y="670.4" font-size="29.5" text-anchor="end" dominant-baseline="central" textLength="34.8" lengthAdjust="spacingAndGlyphs">0.2</text>
<text x="100" y="604.2" font-size="29.5" text-anchor="end" dominant-baseline="central" textLength="49.8" lengthAdjust="spacingAndGlyphs">0.25</text>
<text x="100" y="538.0" font-size="29.5" text-anchor="end" dominant-baseline="central" textLength="34.8" lengthAdjust="spacingAndGlyphs">0.3</text>
<text x="100" y="471.8" font-size="29.5" text-anchor="end" dominant-baseline="central" textLength="49.8" lengthAdjust="spacingAndGlyphs">0.35</text>
<text x="100" y="405.6" font-size="29.5" text-anchor="end" dominant-baseline="central" textLength="34.8" lengthAdjust="spacingAndGlyphs">0.4</text>
<text x="100" y="339.4" font-size="29.5" text-anchor="end" dominant-baseline="central" textLength="49.8" lengthAdjust="spacingAndGlyphs">0.45</text>
<text x="100" y="273.2" font-size="29.5" text-anchor="end" dominant-baseline="central" textLength="34.8" lengthAdjust="spacingAndGlyphs">0.5</text>
<text x="110.9" y="973.2" font-size="30.2" text-anchor="middle" textLength="41.2" lengthAdjust="spacingAndGlyphs">400</text>
<text x="204.0" y="973.2" font-size="30.2" text-anchor="middle" textLength="41.2" lengthAdjust="spacingAndGlyphs">467</text>
<text x="297.1" y="973.2" font-size="30.2" text-anchor="middle" textLength="41.2" lengthAdjust="spacingAndGlyphs">534</text>
<text x="390.2" y="973.2" font-size="30.2" text-anchor="middle" textLength="41.2" lengthAdjust="spacingAndGlyphs">601</text>
<text x="483.3" y="973.2" font-size="30.2" text-anchor="middle" textLength="41.2" lengthAdjust="spacingAndGlyphs">668</text>
<text x="576.4" y="973.2" font-size="30.2" text-anchor="middle" textLength="41.2" lengthAdjust="spacingAndGlyphs">735</text>
<text x="669.5" y="973.2" font-size="30.2" text-anchor="middle" textLength="41.2" lengthAdjust="spacingAndGlyphs">802</text>
<text x="762.6" y="973.2" font-size="30.2" text-anchor="middle" textLength="41.2" lengthAdjust="spacingAndGlyphs">869</text>
<text x="855.7" y="973.2" font-size="30.2" text-anchor="middle" textLength="41.2" lengthAdjust="spacingAndGlyphs">936</text>
<text x="948.8" y="973.2" font-size="30.2" text-anchor="middle" textLength="55.5" lengthAdjust="spacingAndGlyphs">1003</text>
<text x="531.5" y="1016.6" font-size="35.5" text-anchor="middle" textLength="272" lengthAdjust="spacingAndGlyphs">Wavelength (nm)</text>
<text transform="translate(34.9,601) rotate(-90)" font-size="36.3" text-anchor="middle" textLength="189" lengthAdjust="spacingAndGlyphs">Reflectance</text>
</g>
<rect x="155.6" y="575.1" width="113" height="199" fill="#fff" stroke="#444" stroke-width="1.8"/>
<path d="M162.9,595.6 H241.3" stroke="#2ee62e" stroke-width="2.6" stroke-dasharray="19.5 3.5 4.5 3.5" fill="none"/>
<path d="M162.9,627.2 H241.3" stroke="#ff4040" stroke-width="2.1" fill="none"/>
<path d="M162.9,659 H241.3" stroke="#1414f0" stroke-width="3" stroke-dasharray="19.5 11" fill="none"/>
<circle cx="202.8" cy="690.9" r="2.8" fill="#ff22ff"/>
<path d="M162.9,723.6 H238.5" stroke="#f01818" stroke-width="3.8" stroke-dasharray="3.4 3.1" fill="none"/>
<path d="M162.9,754.7 H241.3" stroke="#383838" stroke-width="2.1" fill="none"/>
<g font-family="Liberation Sans, sans-serif" fill="#2b2b2b" stroke="#2b2b2b" stroke-width="0.4" font-size="24.5">
<text x="245.6" y="598.8" dominant-baseline="central" textLength="12" lengthAdjust="spacingAndGlyphs">1</text>
<text x="245.6" y="630.4" dominant-baseline="central" textLength="12" lengthAdjust="spacingAndGlyphs">2</text>
<text x="245.6" y="662.2" dominant-baseline="central" textLength="12" lengthAdjust="spacingAndGlyphs">3</text>
<text x="245.6" y="694.1" dominant-baseline="central" textLength="12" lengthAdjust="spacingAndGlyphs">4</text>
<text x="245.6" y="726.8" dominant-baseline="central" textLength="12" lengthAdjust="spacingAndGlyphs">5</text>
<text x="245.6" y="757.9" dominant-baseline="central" textLength="12" lengthAdjust="spacingAndGlyphs">6</text>
</g>
<rect x="527.2" y="266.8" width="27" height="144.7" fill="none" stroke="#111" stroke-width="3.2"/>
<path d="M558.4,317.9 L616,287" stroke="#111" stroke-width="2" fill="none"/>
<path d="M626.3,281.3 L601.1,282.2 L615,289.2 L613.3,302.2 Z" fill="#111"/>
<g clip-path="url(#ic)">
<path d="M15.7,1133.5C16.3,1134.8 17.5,1137.5 19.5,1141.2C21.6,1144.8 23.9,1151.2 28.1,1155.4C32.2,1159.6 39.1,1164.7 44.2,1166.3C49.2,1167.9 48.9,1166.1 58.4,1165.0C67.9,1163.8 81.0,1161.5 101.1,1159.2C121.2,1157.0 159.7,1153.7 178.9,1151.2C198.2,1148.8 203.7,1147.0 216.7,1144.6C229.6,1142.2 243.7,1140.0 256.7,1136.8C269.7,1133.6 284.6,1129.3 294.7,1125.6C304.7,1121.8 311.3,1118.2 316.9,1114.5C322.4,1110.8 324.6,1108.1 327.9,1103.3C331.2,1098.5 333.8,1092.3 336.8,1085.6C339.8,1078.9 343.1,1069.8 345.7,1063.1C348.3,1056.4 350.1,1051.7 352.4,1045.4C354.6,1039.1 356.8,1031.9 359.0,1025.2C361.2,1018.6 363.6,1011.6 365.8,1005.3C368.1,998.9 370.3,993.7 372.5,987.4C374.7,981.0 376.7,974.4 379.1,967.0C381.6,959.6 384.4,951.7 387.3,942.8C390.1,933.9 393.0,923.6 396.2,913.5C399.4,903.5 403.0,891.9 406.4,882.5C409.9,873.1 413.0,866.4 416.7,857.4C420.4,848.3 424.3,837.1 428.5,828.1C432.6,819.1 437.2,812.4 441.7,803.3C446.3,794.2 451.4,783.0 456.0,773.6C460.6,764.3 465.1,756.0 469.3,747.2C473.4,738.4 478.1,729.6 481.0,720.7C484.0,711.9 484.5,703.4 486.9,694.1C489.3,684.7 492.9,673.4 495.6,664.6C498.3,655.7 499.4,648.5 503.0,641.2C506.7,633.8 513.0,627.8 517.6,620.4C522.3,613.0 527.0,604.6 530.9,596.8C534.9,589.0 537.8,580.2 541.2,573.4C544.6,566.5 548.5,561.1 551.4,555.7C554.3,550.3 555.3,547.0 558.6,541.2C562.0,535.5 567.9,526.5 571.7,521.2C575.6,516.0 577.2,515.2 581.6,509.6C586.0,504.1 593.9,496.1 598.3,488.1C602.7,480.1 605.4,469.4 608.2,461.7C610.9,453.9 612.6,447.2 614.8,441.7C617.0,436.1 617.1,433.1 621.5,428.4C625.8,423.7 635.7,420.7 641.2,413.5C646.7,406.3 649.5,393.9 654.5,385.3C659.4,376.8 664.9,370.4 671.0,362.1C677.0,353.8 685.8,344.3 690.7,335.7C695.7,327.0 696.9,316.6 700.8,310.4C704.6,304.1 710.2,300.7 713.9,298.0C717.5,295.3 720.1,295.4 722.6,294.2C725.1,292.9 726.6,293.7 729.0,290.6C731.4,287.5 734.3,282.0 737.2,275.4C740.1,268.8 743.9,257.2 746.6,250.8C749.3,244.3 751.3,240.4 753.6,236.7C755.9,233.0 757.9,230.5 760.6,228.5C763.3,226.5 766.9,225.0 770.0,224.5C773.1,224.0 776.3,226.4 779.4,225.5C782.5,224.6 785.6,221.4 788.7,219.1C791.8,216.8 795.0,213.2 798.1,211.4C801.2,209.7 804.8,209.3 807.5,208.6C810.2,207.9 811.8,207.2 814.5,207.4C817.2,207.6 820.8,208.8 823.9,209.8C827.0,210.8 830.2,212.3 833.3,213.3C836.4,214.3 839.5,215.3 842.6,215.6C845.7,215.9 849.3,215.2 852.0,214.9C854.7,214.6 856.7,213.4 859.0,213.7C861.3,214.0 863.6,214.5 866.0,216.8C868.3,219.1 870.8,223.2 873.1,227.3C875.5,231.4 877.8,236.5 880.1,241.4C882.4,246.3 884.8,251.9 887.1,256.6C889.4,261.3 891.6,266.2 894.1,269.5C896.6,272.8 899.5,275.6 902.3,276.6C905.0,277.6 907.9,276.4 910.6,275.4C913.4,274.4 916.1,270.9 918.8,270.7C921.5,270.5 924.9,272.0 927.0,274.2C929.1,276.4 930.2,280.9 931.6,283.6C933.0,286.3 933.5,287.3 935.2,290.6C936.9,293.9 939.2,297.5 941.6,303.7C944.0,309.9 945.3,317.6 949.7,327.7C954.2,337.8 962.1,353.7 968.2,364.4C974.3,375.1 980.3,382.0 986.4,392.0C992.5,402.0 998.6,413.6 1004.8,424.4C1010.9,435.1 1017.1,446.6 1023.2,456.5C1029.3,466.5 1036.3,474.1 1041.6,484.1C1046.9,494.1 1050.7,503.4 1055.3,516.5C1059.8,529.6 1064.5,548.7 1069.1,562.5C1073.7,576.3 1078.2,590.8 1082.8,599.3C1087.4,607.7 1091.3,608.6 1096.6,613.2C1102.0,617.8 1109.7,622.5 1115.0,626.9C1120.4,631.3 1124.5,632.1 1128.7,639.6C1132.9,647.2 1136.6,662.8 1140.1,672.0C1143.6,681.2 1146.4,687.4 1149.6,694.8C1152.7,702.3 1154.3,708.7 1159.1,716.7C1163.8,724.7 1171.7,737.6 1178.0,743.0C1184.4,748.4 1189.9,748.7 1197.0,749.1C1204.1,749.5 1209.7,745.1 1220.7,745.3C1231.8,745.4 1248.4,748.0 1263.4,750.0C1278.5,752.0 1295.1,754.7 1310.9,757.3C1326.7,759.8 1343.3,763.1 1358.3,765.3C1373.3,767.4 1386.8,769.5 1401.0,770.0C1415.2,770.5 1431.9,767.1 1443.7,768.1C1455.6,769.2 1462.7,772.2 1472.2,776.3C1481.7,780.4 1491.2,787.7 1500.6,792.9C1510.1,798.0 1518.8,803.3 1529.1,807.1C1539.4,810.9 1556.8,814.3 1562.3,815.7" fill="none" stroke="#2ee62e" stroke-width="2.3" stroke-dasharray="13 4.5 3.5 4.5" stroke-linejoin="round"/>
<path d="M15.3,1121.1C16.0,1120.6 17.0,1116.0 19.1,1118.3C21.3,1120.5 23.9,1129.9 28.1,1134.4C32.2,1138.9 39.1,1144.2 44.2,1145.3C49.2,1146.4 48.9,1143.9 58.4,1141.1C67.9,1138.3 82.1,1133.2 101.1,1128.7C120.1,1124.3 154.8,1118.1 172.3,1114.5C189.7,1110.8 194.5,1109.4 205.7,1107.0C216.8,1104.7 228.0,1102.8 239.1,1100.2C250.2,1097.5 262.7,1094.1 272.3,1091.0C281.9,1088.0 290.0,1085.5 296.8,1082.1C303.5,1078.7 308.1,1075.3 312.7,1070.7C317.3,1066.1 320.8,1060.4 324.1,1054.5C327.4,1048.6 329.8,1042.1 332.6,1035.5C335.5,1028.8 338.7,1021.0 341.2,1014.5C343.7,1008.1 345.1,1003.7 347.6,996.8C350.2,990.0 353.6,981.3 356.5,973.4C359.5,965.6 362.3,957.7 365.3,949.8C368.2,941.9 371.4,934.1 374.2,926.2C377.0,918.3 379.7,910.0 382.2,902.6C384.6,895.3 386.7,889.9 388.8,882.1C390.9,874.2 392.7,863.8 394.7,855.4C396.6,847.1 398.6,840.3 400.6,832.0C402.5,823.7 404.4,814.6 406.4,805.4C408.5,796.1 411.0,784.9 412.9,776.6C414.8,768.3 416.0,762.9 418.0,755.7C420.1,748.5 421.6,741.5 425.2,733.4C428.9,725.3 435.7,715.3 439.8,707.0C444.0,698.6 446.2,692.2 450.1,683.4C454.0,674.5 459.2,663.7 463.4,653.9C467.6,644.0 471.7,634.2 475.1,624.3C478.6,614.5 481.4,604.2 483.9,594.8C486.3,585.5 487.3,578.2 489.8,568.4C492.2,558.6 495.7,545.4 498.7,536.0C501.6,526.7 505.7,516.9 507.4,512.4C509.1,508.0 506.5,513.2 508.9,509.4C511.4,505.5 517.2,497.7 522.2,489.4C527.2,481.1 534.3,468.5 538.7,459.7C543.1,450.9 544.4,445.3 548.6,436.5C552.7,427.6 558.6,414.9 563.6,406.6C568.5,398.3 572.3,394.1 578.4,386.6C584.4,379.2 595.1,370.2 599.8,361.9C604.5,353.6 603.4,347.2 606.5,336.9C609.5,326.7 615.0,308.1 618.0,300.4C621.1,292.7 620.8,293.3 624.7,290.5C628.5,287.7 637.7,285.2 641.2,283.8C644.7,282.5 643.9,286.5 645.8,282.4C647.7,278.3 650.3,266.4 652.8,259.0C655.3,251.6 658.7,242.2 661.0,237.9C663.4,233.6 664.2,234.6 666.9,233.2C669.6,231.8 674.7,231.6 677.4,229.7C680.1,227.8 681.3,224.6 683.3,221.5C685.2,218.4 686.8,216.8 689.1,210.9C691.4,205.0 695.2,191.8 697.3,186.3C699.4,180.9 700.1,181.1 701.9,178.2C703.7,175.3 705.8,170.8 708.1,168.8C710.4,166.8 713.0,166.9 715.9,166.5C718.8,166.1 722.7,167.9 725.3,166.5C727.9,165.1 729.8,161.2 731.6,157.9C733.4,154.6 734.8,150.5 736.3,146.9C737.9,143.2 739.4,139.6 740.9,136.0C742.4,132.4 744.0,129.0 745.6,125.1C747.2,121.2 748.7,116.3 750.3,112.6C751.9,109.0 753.2,105.6 755.0,103.2C756.8,100.8 759.0,99.6 761.3,98.5C763.7,97.5 766.2,97.0 769.1,96.9C771.9,96.8 775.8,98.0 778.4,97.7C781.0,97.5 782.3,96.7 784.7,95.4C787.0,94.1 789.6,91.5 792.5,89.9C795.4,88.3 798.7,86.9 801.9,86.0C805.2,85.1 808.9,84.1 812.0,84.4C815.1,84.7 817.6,86.3 820.6,87.6C823.6,88.9 826.9,90.9 830.0,92.2C833.1,93.5 835.7,95.1 839.4,95.6C843.1,96.1 848.4,95.1 852.0,95.4C855.6,95.7 858.6,95.9 861.3,97.2C864.0,98.5 866.1,99.6 868.4,103.1C870.8,106.6 873.1,113.0 875.4,118.3C877.7,123.6 880.0,129.5 882.4,134.7C884.8,140.0 887.2,145.4 889.5,149.8C891.9,154.2 894.2,158.4 896.5,161.3C898.8,164.2 901.1,166.4 903.5,167.5C905.9,168.5 908.1,168.3 910.6,167.6C913.2,166.9 916.1,163.5 918.8,163.4C921.5,163.3 924.5,164.0 927.0,167.0C929.5,170.0 931.7,175.6 934.0,181.6C936.3,187.5 938.7,195.7 941.0,202.7C943.4,209.7 945.7,217.2 948.1,223.8C950.4,230.4 952.8,237.0 955.1,242.5C957.4,248.0 959.4,252.9 962.1,256.6C964.8,260.3 968.4,261.7 971.5,264.8C974.6,267.9 978.2,271.3 980.9,275.4C983.6,279.5 981.6,274.1 987.9,289.4C994.2,304.7 1010.5,350.2 1018.6,367.0C1026.8,383.8 1031.5,381.6 1036.9,390.0C1042.2,398.5 1046.1,404.8 1050.7,417.8C1055.3,430.9 1060.0,453.1 1064.6,468.5C1069.1,483.8 1073.6,498.3 1078.2,509.8C1082.8,521.3 1086.7,530.6 1092.1,537.6C1097.4,544.5 1104.4,546.7 1110.5,551.3C1116.6,555.9 1123.4,555.2 1128.7,565.2C1134.0,575.1 1137.9,596.6 1142.6,611.2C1147.2,625.8 1152.1,641.0 1156.4,652.7C1160.7,664.4 1164.2,674.3 1168.5,681.4C1172.9,688.6 1174.9,693.3 1182.8,695.7C1190.7,698.1 1202.5,694.9 1216.0,695.7C1229.4,696.5 1247.6,698.5 1263.4,700.5C1279.2,702.5 1295.1,704.9 1310.9,707.7C1326.7,710.5 1343.3,714.6 1358.3,717.2C1373.3,719.8 1388.4,722.8 1401.0,723.3C1413.7,723.9 1423.9,719.7 1434.2,720.5C1444.5,721.3 1453.2,724.7 1462.7,728.1C1472.2,731.5 1481.7,736.1 1491.2,741.0C1500.6,745.9 1507.8,752.4 1519.6,757.6C1531.5,762.7 1555.2,769.5 1562.3,771.9" fill="none" stroke="#ff5050" stroke-width="2.0" stroke-linejoin="round"/>
<path d="M15.3,1124.3C16.0,1123.8 17.0,1119.2 19.1,1121.4C21.3,1123.6 23.9,1133.1 28.1,1137.6C32.2,1142.1 39.1,1147.3 44.2,1148.4C49.2,1149.6 48.9,1147.0 58.4,1144.3C67.9,1141.5 82.1,1136.3 101.1,1131.9C120.1,1127.4 154.8,1121.2 172.3,1117.6C189.7,1114.0 194.5,1112.6 205.7,1110.2C216.8,1107.8 228.0,1106.0 239.1,1103.3C250.2,1100.7 262.7,1097.2 272.3,1094.2C281.9,1091.2 290.0,1088.7 296.8,1085.3C303.5,1081.9 308.1,1078.4 312.7,1073.8C317.3,1069.2 320.8,1063.5 324.1,1057.7C327.4,1051.8 329.8,1045.3 332.6,1038.6C335.5,1032.0 338.7,1024.1 341.2,1017.7C343.7,1011.3 345.1,1006.8 347.6,1000.0C350.2,993.1 353.6,984.4 356.5,976.6C359.5,968.7 362.3,960.8 365.3,953.0C368.2,945.1 371.4,937.2 374.2,929.4C377.0,921.5 379.7,913.1 382.2,905.8C384.6,898.4 386.7,893.1 388.8,885.2C390.9,877.4 392.7,866.9 394.7,858.6C396.6,850.2 398.6,843.5 400.6,835.2C402.5,826.8 404.4,817.7 406.4,808.5C408.5,799.3 411.0,788.1 412.9,779.8C414.8,771.5 416.0,766.0 418.0,758.8C420.1,751.6 421.6,744.7 425.2,736.6C428.9,728.4 435.7,718.5 439.8,710.1C444.0,701.8 446.2,695.4 450.1,686.5C454.0,677.7 459.2,666.8 463.4,657.0C467.6,647.2 471.7,637.3 475.1,627.5C478.6,617.7 481.4,607.3 483.9,598.0C486.3,588.7 487.3,581.4 489.8,571.6C492.2,561.8 495.7,548.5 498.7,539.2C501.6,529.9 505.7,520.0 507.4,515.6C509.1,511.2 506.5,516.4 508.9,512.5C511.4,508.7 517.2,500.8 522.2,492.6C527.2,484.3 534.3,471.7 538.7,462.9C543.1,454.1 544.4,448.5 548.6,439.7C552.7,430.8 558.6,418.1 563.6,409.8C568.5,401.5 572.3,397.2 578.4,389.8C584.4,382.3 595.1,373.3 599.8,365.0C604.5,356.8 603.4,350.4 606.5,340.1C609.5,329.9 615.0,311.3 618.0,303.6C621.1,295.8 620.8,296.4 624.7,293.7C628.5,290.9 637.7,288.5 641.2,287.0C644.7,285.5 643.9,289.1 645.8,284.8C647.7,280.5 650.3,268.8 652.8,261.4C655.3,254.0 658.7,244.6 661.0,240.3C663.4,236.0 664.2,237.0 666.9,235.6C669.6,234.2 674.7,234.0 677.4,232.1C680.1,230.1 681.3,227.0 683.3,223.9C685.2,220.8 686.8,219.2 689.1,213.3C691.4,207.4 695.2,194.2 697.3,188.7C699.4,183.3 700.1,183.5 701.9,180.6C703.7,177.7 705.8,173.1 708.1,171.2C710.4,169.2 713.0,169.3 715.9,168.9C718.8,168.5 722.7,170.3 725.3,168.9C727.9,167.5 729.8,163.6 731.6,160.3C733.4,157.0 734.8,152.9 736.3,149.3C737.9,145.6 739.4,142.0 740.9,138.4C742.4,134.8 744.0,131.4 745.6,127.5C747.2,123.6 748.7,118.7 750.3,115.0C751.9,111.4 753.2,108.0 755.0,105.6C756.8,103.2 759.0,102.0 761.3,100.9C763.7,99.9 766.2,99.4 769.1,99.3C771.9,99.2 775.8,100.4 778.4,100.1C781.0,99.9 782.3,99.1 784.7,97.8C787.0,96.5 789.6,93.9 792.5,92.3C795.4,90.7 798.7,89.3 801.9,88.4C805.2,87.5 808.9,86.5 812.0,86.8C815.1,87.1 817.6,88.7 820.6,90.0C823.6,91.3 826.9,93.3 830.0,94.6C833.1,95.9 835.7,97.5 839.4,98.0C843.1,98.5 848.4,97.5 852.0,97.8C855.6,98.1 858.6,98.3 861.3,99.6C864.0,100.9 866.1,102.0 868.4,105.5C870.8,109.0 873.1,115.4 875.4,120.7C877.7,126.0 880.0,131.9 882.4,137.1C884.8,142.4 887.2,147.8 889.5,152.2C891.9,156.6 894.2,160.8 896.5,163.7C898.8,166.6 901.1,168.8 903.5,169.9C905.9,170.9 908.1,170.7 910.6,170.0C913.2,169.3 916.1,165.9 918.8,165.8C921.5,165.7 924.5,166.4 927.0,169.4C929.5,172.4 931.7,178.0 934.0,184.0C936.3,189.9 938.7,198.1 941.0,205.1C943.4,212.1 945.7,219.6 948.1,226.2C950.4,232.8 952.8,239.4 955.1,244.9C957.4,250.4 959.4,255.3 962.1,259.0C964.8,262.7 968.4,264.1 971.5,267.2C974.6,270.3 978.2,273.7 980.9,277.8C983.6,281.9 981.6,276.4 987.9,291.8C994.2,307.2 1010.5,353.3 1018.6,370.2C1026.8,387.1 1031.5,384.7 1036.9,393.2C1042.2,401.7 1046.1,407.9 1050.7,421.0C1055.3,434.1 1060.0,456.3 1064.6,471.6C1069.1,486.9 1073.6,501.4 1078.2,512.9C1082.8,524.4 1086.7,533.8 1092.1,540.7C1097.4,547.6 1104.4,549.8 1110.5,554.4C1116.6,559.0 1123.4,558.3 1128.7,568.3C1134.0,578.3 1137.9,599.8 1142.6,614.4C1147.2,629.0 1152.1,644.2 1156.4,655.9C1160.7,667.6 1164.2,677.4 1168.5,684.6C1172.9,691.8 1174.9,696.5 1182.8,698.9C1190.7,701.3 1202.5,698.1 1216.0,698.9C1229.4,699.7 1247.6,701.6 1263.4,703.6C1279.2,705.6 1295.1,708.1 1310.9,710.9C1326.7,713.7 1343.3,717.8 1358.3,720.4C1373.3,723.0 1388.4,725.9 1401.0,726.5C1413.7,727.0 1423.9,722.8 1434.2,723.6C1444.5,724.4 1453.2,727.8 1462.7,731.2C1472.2,734.7 1481.7,739.3 1491.2,744.2C1500.6,749.1 1507.8,755.6 1519.6,760.7C1531.5,765.9 1555.2,772.6 1562.3,775.0" fill="none" stroke="#1414f0" stroke-width="3.7" stroke-dasharray="13 11.3" stroke-linejoin="round"/>
<g fill="#ff22ff"><circle cx="21.2" cy="1127.5" r="2.35"/><circle cx="30.1" cy="1144.3" r="2.35"/><circle cx="39.0" cy="1150.7" r="2.35"/><circle cx="47.9" cy="1152.5" r="2.35"/><circle cx="56.8" cy="1148.4" r="2.35"/><circle cx="65.7" cy="1145.4" r="2.35"/><circle cx="74.6" cy="1142.3" r="2.35"/><circle cx="83.5" cy="1139.5" r="2.35"/><circle cx="92.4" cy="1136.8" r="2.35"/><circle cx="101.3" cy="1134.4" r="2.35"/><circle cx="110.2" cy="1132.4" r="2.35"/><circle cx="119.1" cy="1130.5" r="2.35"/><circle cx="128.0" cy="1128.7" r="2.35"/><circle cx="136.9" cy="1126.9" r="2.35"/><circle cx="145.8" cy="1125.1" r="2.35"/><circle cx="154.7" cy="1123.3" r="2.35"/><circle cx="163.6" cy="1121.4" r="2.35"/><circle cx="172.5" cy="1119.2" r="2.35"/><circle cx="181.4" cy="1116.5" r="2.35"/><circle cx="190.3" cy="1113.0" r="2.35"/><circle cx="199.2" cy="1109.0" r="2.35"/><circle cx="208.1" cy="1106.0" r="2.35"/><circle cx="217.0" cy="1103.8" r="2.35"/><circle cx="225.9" cy="1101.9" r="2.35"/><circle cx="234.8" cy="1100.0" r="2.35"/><circle cx="243.7" cy="1097.6" r="2.35"/><circle cx="252.6" cy="1095.1" r="2.35"/><circle cx="261.5" cy="1092.4" r="2.35"/><circle cx="270.4" cy="1089.5" r="2.35"/><circle cx="279.3" cy="1086.3" r="2.35"/><circle cx="288.2" cy="1082.7" r="2.35"/><circle cx="297.1" cy="1078.6" r="2.35"/><circle cx="306.0" cy="1073.8" r="2.35"/><circle cx="314.9" cy="1067.4" r="2.35"/><circle cx="323.8" cy="1055.4" r="2.35"/><circle cx="332.7" cy="1038.3" r="2.35"/><circle cx="341.6" cy="1016.8" r="2.35"/><circle cx="350.5" cy="991.1" r="2.35"/><circle cx="359.4" cy="967.9" r="2.35"/><circle cx="368.3" cy="946.2" r="2.35"/><circle cx="377.2" cy="924.0" r="2.35"/><circle cx="386.1" cy="897.7" r="2.35"/><circle cx="395.0" cy="864.9" r="2.35"/><circle cx="403.9" cy="829.7" r="2.35"/><circle cx="412.8" cy="795.0" r="2.35"/><circle cx="421.7" cy="769.4" r="2.35"/><circle cx="430.6" cy="754.2" r="2.35"/><circle cx="439.5" cy="741.5" r="2.35"/><circle cx="448.4" cy="729.2" r="2.35"/><circle cx="457.3" cy="714.1" r="2.35"/><circle cx="466.2" cy="690.7" r="2.35"/><circle cx="475.1" cy="669.4" r="2.35"/><circle cx="484.0" cy="643.6" r="2.35"/><circle cx="492.9" cy="605.3" r="2.35"/><circle cx="501.8" cy="575.1" r="2.35"/><circle cx="510.7" cy="558.2" r="2.35"/><circle cx="519.6" cy="547.7" r="2.35"/><circle cx="528.5" cy="532.4" r="2.35"/><circle cx="537.4" cy="514.6" r="2.35"/><circle cx="546.3" cy="499.3" r="2.35"/><circle cx="555.2" cy="483.2" r="2.35"/><circle cx="564.1" cy="466.6" r="2.35"/><circle cx="573.0" cy="453.8" r="2.35"/><circle cx="581.9" cy="444.8" r="2.35"/><circle cx="590.8" cy="435.7" r="2.35"/><circle cx="599.7" cy="423.6" r="2.35"/><circle cx="608.6" cy="397.4" r="2.35"/><circle cx="617.5" cy="371.7" r="2.35"/><circle cx="626.4" cy="360.4" r="2.35"/><circle cx="635.3" cy="356.7" r="2.35"/><circle cx="644.2" cy="349.4" r="2.35"/><circle cx="653.1" cy="327.4" r="2.35"/><circle cx="662.0" cy="307.8" r="2.35"/><circle cx="670.9" cy="298.8" r="2.35"/><circle cx="679.8" cy="297.6" r="2.35"/><circle cx="688.7" cy="278.0" r="2.35"/><circle cx="697.6" cy="254.6" r="2.35"/><circle cx="706.5" cy="238.7" r="2.35"/><circle cx="715.4" cy="236.0" r="2.35"/><circle cx="724.3" cy="235.4" r="2.35"/><circle cx="733.2" cy="226.5" r="2.35"/><circle cx="742.1" cy="205.6" r="2.35"/><circle cx="751.0" cy="179.6" r="2.35"/><circle cx="759.9" cy="168.9" r="2.35"/><circle cx="768.8" cy="165.3" r="2.35"/><circle cx="777.7" cy="167.2" r="2.35"/><circle cx="786.6" cy="162.6" r="2.35"/><circle cx="795.5" cy="154.8" r="2.35"/><circle cx="804.4" cy="152.8" r="2.35"/><circle cx="813.3" cy="151.3" r="2.35"/><circle cx="822.2" cy="153.2" r="2.35"/><circle cx="831.1" cy="157.8" r="2.35"/><circle cx="840.0" cy="161.2" r="2.35"/><circle cx="848.9" cy="161.0" r="2.35"/><circle cx="857.8" cy="160.5" r="2.35"/><circle cx="866.7" cy="165.4" r="2.35"/><circle cx="875.6" cy="177.4" r="2.35"/><circle cx="884.5" cy="197.3" r="2.35"/><circle cx="893.4" cy="216.3" r="2.35"/><circle cx="902.3" cy="227.7" r="2.35"/><circle cx="911.2" cy="226.6" r="2.35"/><circle cx="920.1" cy="220.2" r="2.35"/><circle cx="929.0" cy="225.9" r="2.35"/><circle cx="937.9" cy="247.9" r="2.35"/><circle cx="946.8" cy="272.5" r="2.35"/><circle cx="955.7" cy="295.4" r="2.35"/><circle cx="964.6" cy="308.5" r="2.35"/><circle cx="973.5" cy="317.2" r="2.35"/><circle cx="982.4" cy="330.8" r="2.35"/><circle cx="991.3" cy="350.2" r="2.35"/><circle cx="1000.2" cy="371.5" r="2.35"/><circle cx="1009.1" cy="387.9" r="2.35"/><circle cx="1018.0" cy="401.0" r="2.35"/><circle cx="1026.9" cy="412.8" r="2.35"/><circle cx="1035.8" cy="427.3" r="2.35"/><circle cx="1044.7" cy="448.7" r="2.35"/><circle cx="1053.6" cy="475.1" r="2.35"/><circle cx="1062.5" cy="503.3" r="2.35"/><circle cx="1071.4" cy="531.2" r="2.35"/><circle cx="1080.3" cy="553.1" r="2.35"/><circle cx="1089.2" cy="568.7" r="2.35"/><circle cx="1098.1" cy="578.1" r="2.35"/><circle cx="1107.0" cy="588.2" r="2.35"/><circle cx="1115.9" cy="599.7" r="2.35"/><circle cx="1124.8" cy="613.2" r="2.35"/><circle cx="1133.7" cy="627.5" r="2.35"/><circle cx="1142.6" cy="643.5" r="2.35"/><circle cx="1151.5" cy="667.7" r="2.35"/><circle cx="1160.4" cy="695.1" r="2.35"/><circle cx="1169.3" cy="713.3" r="2.35"/><circle cx="1178.2" cy="718.8" r="2.35"/><circle cx="1187.1" cy="721.0" r="2.35"/><circle cx="1196.0" cy="721.4" r="2.35"/><circle cx="1204.9" cy="720.2" r="2.35"/><circle cx="1213.8" cy="719.1" r="2.35"/><circle cx="1222.7" cy="719.1" r="2.35"/><circle cx="1231.6" cy="719.9" r="2.35"/><circle cx="1240.5" cy="720.9" r="2.35"/><circle cx="1249.4" cy="722.2" r="2.35"/><circle cx="1258.3" cy="723.6" r="2.35"/><circle cx="1267.2" cy="724.9" r="2.35"/><circle cx="1276.1" cy="726.4" r="2.35"/><circle cx="1285.0" cy="727.9" r="2.35"/><circle cx="1293.9" cy="729.5" r="2.35"/><circle cx="1302.8" cy="731.1" r="2.35"/><circle cx="1311.7" cy="732.7" r="2.35"/><circle cx="1320.6" cy="734.2" r="2.35"/><circle cx="1329.5" cy="735.7" r="2.35"/><circle cx="1338.4" cy="737.2" r="2.35"/><circle cx="1347.3" cy="738.6" r="2.35"/><circle cx="1356.2" cy="739.9" r="2.35"/><circle cx="1365.1" cy="740.9" r="2.35"/><circle cx="1374.0" cy="741.7" r="2.35"/><circle cx="1382.9" cy="742.4" r="2.35"/><circle cx="1391.8" cy="743.0" r="2.35"/><circle cx="1400.7" cy="743.4" r="2.35"/><circle cx="1409.6" cy="743.3" r="2.35"/><circle cx="1418.5" cy="742.7" r="2.35"/><circle cx="1427.4" cy="742.4" r="2.35"/><circle cx="1436.3" cy="742.3" r="2.35"/><circle cx="1445.2" cy="742.4" r="2.35"/><circle cx="1454.1" cy="743.1" r="2.35"/><circle cx="1463.0" cy="744.3" r="2.35"/><circle cx="1471.9" cy="746.0" r="2.35"/><circle cx="1480.8" cy="748.3" r="2.35"/><circle cx="1489.7" cy="751.6" r="2.35"/><circle cx="1498.6" cy="755.7" r="2.35"/><circle cx="1507.5" cy="760.0" r="2.35"/><circle cx="1516.4" cy="764.4" r="2.35"/><circle cx="1525.3" cy="768.3" r="2.35"/><circle cx="1534.2" cy="771.9" r="2.35"/><circle cx="1543.1" cy="774.9" r="2.35"/><circle cx="1552.0" cy="777.5" r="2.35"/><circle cx="1560.9" cy="779.9" r="2.35"/></g>
<path d="M15.3,1120.2C15.9,1119.9 16.8,1116.9 18.9,1118.1C21.1,1119.4 24.4,1124.7 28.1,1127.8C31.7,1130.9 35.9,1135.9 41.0,1136.8C46.0,1137.7 51.5,1135.0 58.4,1133.2C65.3,1131.3 74.1,1128.5 82.5,1125.6C91.0,1122.6 99.8,1118.1 109.1,1115.3C118.3,1112.5 126.1,1111.0 138.1,1108.6C150.1,1106.3 169.6,1103.7 181.2,1101.2C192.8,1098.7 198.3,1096.2 207.9,1093.4C217.6,1090.6 229.5,1087.2 239.1,1084.4C248.7,1081.6 256.8,1079.8 265.6,1076.6C274.5,1073.5 285.7,1069.0 292.4,1065.4C299.1,1061.9 301.6,1058.6 305.7,1055.3C309.8,1052.0 313.5,1049.3 316.9,1045.4C320.2,1041.5 323.2,1036.4 325.8,1031.9C328.4,1027.4 330.2,1023.4 332.4,1018.6C334.7,1013.8 337.1,1007.8 339.1,1003.0C341.1,998.2 342.9,994.4 344.6,989.7C346.3,984.9 347.2,981.6 349.1,974.6C351.1,967.7 353.9,955.7 356.3,948.0C358.8,940.2 361.2,936.4 363.9,928.2C366.7,920.0 369.8,909.0 372.7,898.7C375.6,888.4 378.7,877.1 381.4,866.3C384.1,855.5 386.3,844.8 388.8,834.0C391.3,823.1 393.8,811.5 396.2,801.4C398.6,791.4 400.1,784.2 403.2,773.6C406.4,763.1 411.1,749.5 415.0,738.2C418.9,726.9 422.9,714.7 426.8,705.9C430.6,697.1 434.4,691.7 438.3,685.3C442.2,678.9 446.2,675.5 450.1,667.6C454.0,659.7 458.2,647.4 461.9,638.1C465.5,628.8 469.2,620.0 472.1,611.7C475.0,603.3 477.3,595.9 479.5,588.1C481.7,580.2 483.4,573.3 485.4,564.5C487.3,555.6 488.8,544.3 491.3,535.0C493.7,525.6 497.8,515.2 500.2,508.5C502.6,501.8 503.1,499.8 505.7,494.8C508.3,489.7 511.7,485.1 515.6,478.2C519.4,471.3 524.7,461.9 528.8,453.3C533.0,444.7 537.4,433.2 540.4,426.8C543.5,420.5 544.3,421.6 547.1,415.2C549.8,408.9 553.9,395.2 556.9,388.6C559.9,382.0 562.3,379.9 565.1,375.5C567.8,371.0 570.1,366.3 573.4,362.1C576.8,358.0 581.7,354.1 585.0,350.5C588.3,346.9 590.4,344.8 593.2,340.6C595.9,336.5 599.3,332.5 601.5,325.6C603.7,318.7 604.2,308.5 606.5,299.1C608.7,289.7 611.5,275.9 614.8,269.2C618.1,262.6 622.5,262.1 626.4,259.3C630.2,256.6 634.7,255.3 638.0,252.7C641.2,250.1 643.3,248.3 645.8,243.7C648.3,239.1 650.3,231.3 652.8,225.0C655.3,218.8 658.9,210.7 661.0,206.2C663.2,201.7 663.4,200.3 665.7,198.0C668.1,195.7 672.4,193.8 675.1,192.2C677.8,190.6 680.3,191.1 682.1,188.7C683.9,186.3 684.5,181.6 686.0,178.0C687.5,174.4 689.3,171.1 690.9,166.9C692.5,162.7 694.0,157.0 695.6,152.8C697.2,148.6 698.7,145.3 700.3,141.9C701.9,138.5 703.4,134.8 705.0,132.5C706.6,130.1 707.9,128.7 709.7,127.8C711.5,126.9 713.8,127.0 715.9,127.0C718.0,126.9 720.4,127.9 722.2,127.5C724.0,127.1 725.3,126.2 726.9,124.7C728.5,123.2 730.0,121.0 731.6,118.4C733.2,115.8 734.8,112.7 736.3,109.1C737.9,105.5 739.4,101.0 740.9,96.6C742.4,92.2 744.0,87.2 745.6,82.5C747.2,77.8 748.7,72.0 750.3,68.4C751.9,64.7 753.2,63.2 755.0,60.6C756.8,58.0 759.2,54.6 761.3,52.8C763.4,51.0 765.4,49.9 767.5,49.7C769.6,49.4 771.7,50.9 773.8,51.3C775.9,51.7 777.9,52.7 780.0,52.0C782.1,51.3 784.2,49.0 786.3,47.3C788.4,45.6 790.4,43.3 792.5,41.9C794.6,40.5 796.7,39.6 798.8,38.8C800.9,38.0 802.8,37.4 805.0,36.9C807.2,36.4 809.6,35.5 812.0,35.6C814.4,35.7 816.9,36.7 819.1,37.5C821.3,38.3 823.2,39.3 825.3,40.3C827.4,41.4 829.5,42.6 831.6,43.8C833.7,45.0 835.6,46.6 837.8,47.3C840.0,48.0 842.6,47.9 845.0,48.0C847.4,48.1 849.3,47.8 852.0,48.0C854.7,48.2 858.6,48.0 861.3,49.2C864.0,50.4 866.1,52.0 868.4,55.1C870.8,58.2 873.1,62.7 875.4,68.0C877.7,73.3 880.0,80.8 882.4,86.7C884.8,92.5 887.2,98.0 889.5,103.1C891.9,108.2 894.2,113.7 896.5,117.2C898.8,120.7 901.1,123.2 903.5,124.2C905.9,125.2 908.3,123.8 910.6,123.0C913.0,122.2 914.9,119.3 917.6,119.1C920.3,118.9 924.3,119.1 927.0,121.9C929.7,124.7 931.7,129.7 934.0,135.9C936.3,142.2 939.1,153.6 941.0,159.4C943.0,165.3 944.1,166.7 945.7,171.0C947.3,175.3 948.5,179.7 950.4,185.2C952.4,190.7 955.0,199.0 957.4,203.9C959.7,208.8 961.8,211.3 964.5,214.4C967.2,217.5 970.9,219.8 973.8,222.7C976.7,225.6 979.6,227.7 982.0,232.0C984.3,236.3 985.7,242.5 987.9,248.4C990.0,254.3 992.4,260.2 994.9,267.2C997.4,274.2 999.1,282.1 1003.1,290.6C1007.1,299.1 1013.4,309.1 1018.6,318.4C1023.9,327.6 1029.2,334.4 1034.6,346.0C1039.9,357.5 1045.7,372.1 1050.7,387.4C1055.7,402.8 1060.0,422.7 1064.6,438.1C1069.1,453.4 1073.6,468.8 1078.2,479.6C1082.8,490.3 1086.7,495.7 1092.1,502.6C1097.4,509.5 1104.8,515.7 1110.5,521.1C1116.2,526.4 1122.2,527.1 1126.4,534.8C1130.6,542.4 1131.5,553.3 1135.7,567.1C1139.9,580.9 1146.7,603.2 1151.7,617.7C1156.6,632.3 1160.9,646.2 1165.5,654.7C1170.1,663.1 1173.5,665.6 1179.4,668.4C1185.2,671.1 1190.8,670.3 1200.8,671.2C1210.9,672.1 1225.3,672.2 1239.7,673.9C1254.1,675.5 1271.3,678.1 1287.2,681.1C1303.0,684.1 1319.6,689.4 1334.6,692.0C1349.6,694.6 1363.1,695.8 1377.3,696.7C1391.5,697.7 1405.8,696.3 1420.0,697.7C1434.2,699.0 1450.8,701.3 1462.7,704.9C1474.5,708.5 1481.7,714.1 1491.2,719.2C1500.6,724.3 1507.8,731.0 1519.6,735.8C1531.5,740.5 1555.2,745.7 1562.3,747.7" fill="none" stroke="#f01818" stroke-width="3.5" stroke-dasharray="3.2 2.6" stroke-linejoin="round"/>
<path d="M15.3,1124.0C16.0,1123.6 17.0,1118.8 19.1,1121.2C21.3,1123.6 23.9,1133.7 28.1,1138.3C32.2,1142.9 39.1,1147.7 44.2,1148.8C49.2,1149.9 48.9,1147.7 58.4,1145.0C67.9,1142.3 82.1,1137.0 101.1,1132.6C120.1,1128.2 154.8,1121.9 172.3,1118.3C189.7,1114.7 194.5,1113.3 205.7,1110.9C216.8,1108.5 228.0,1106.7 239.1,1104.0C250.2,1101.4 262.7,1097.9 272.3,1094.9C281.9,1091.9 289.7,1089.5 296.8,1086.2C303.8,1082.9 309.4,1079.6 314.6,1075.1C319.8,1070.6 324.2,1065.3 327.9,1059.3C331.6,1053.4 333.8,1046.5 336.8,1039.3C339.8,1032.2 342.9,1023.7 345.7,1016.5C348.5,1009.3 350.7,1003.2 353.5,996.3C356.3,989.5 358.2,985.8 362.4,975.4C366.6,965.0 373.4,948.8 378.5,934.1C383.7,919.3 389.0,902.1 393.2,886.9C397.3,871.6 400.4,856.5 403.6,842.7C406.8,829.0 409.5,817.0 412.3,804.5C415.2,792.0 417.5,777.8 420.9,767.7C424.3,757.7 428.5,751.0 432.6,744.1C436.8,737.2 441.8,734.3 445.7,726.4C449.6,718.6 451.8,707.4 456.0,697.1C460.1,686.8 466.9,674.4 470.8,664.6C474.7,654.7 476.6,647.9 479.5,638.1C482.4,628.3 485.7,616.5 488.4,605.8C491.1,595.0 493.5,582.2 495.6,573.4C497.8,564.5 497.8,559.1 501.5,552.7C505.2,546.2 513.5,540.9 517.6,535.0C521.8,529.1 523.6,522.6 526.6,517.2C529.5,511.9 531.6,509.7 535.3,502.6C539.0,495.5 543.6,485.0 548.6,474.8C553.5,464.7 560.7,448.9 565.1,441.7C569.5,434.5 569.6,437.8 575.1,431.8C580.7,425.7 592.8,414.7 598.3,405.3C603.8,395.9 604.9,386.0 608.2,375.5C611.5,364.9 614.7,348.8 618.0,342.1C621.3,335.5 623.2,338.7 627.9,335.7C632.6,332.7 641.0,331.6 646.1,324.1C651.3,316.6 655.6,297.9 658.7,290.6C661.8,283.3 661.6,282.8 664.5,280.1C667.4,277.4 673.1,276.1 676.2,274.2C679.3,272.2 680.9,272.3 683.3,268.4C685.6,264.5 688.0,256.9 690.3,250.8C692.6,244.7 694.6,237.7 697.3,232.0C700.0,226.3 704.0,219.8 706.7,216.8C709.4,213.7 710.8,214.3 713.7,213.7C716.6,213.1 721.2,214.7 724.3,213.3C727.4,211.9 730.0,209.2 732.5,205.1C735.0,201.0 737.8,193.0 739.5,188.7C741.2,184.4 741.2,183.0 742.5,179.4C743.8,175.8 745.6,170.6 747.2,166.9C748.8,163.3 750.1,160.6 751.9,157.5C753.7,154.4 756.0,150.2 758.1,148.1C760.2,146.0 762.6,145.7 764.4,145.0C766.2,144.4 767.0,143.8 769.1,144.2C771.2,144.6 774.6,147.3 776.9,147.3C779.2,147.3 780.8,145.6 783.1,144.2C785.4,142.8 788.3,140.5 790.9,138.8C793.5,137.1 796.4,135.2 798.8,134.1C801.1,133.0 802.7,132.7 805.0,132.2C807.3,131.7 810.2,130.6 812.8,130.9C815.4,131.2 817.7,132.9 820.6,134.1C823.5,135.4 826.9,137.0 830.0,138.4C833.1,139.8 835.3,142.1 839.4,142.7C843.4,143.3 850.2,141.4 854.3,141.8C858.3,142.2 861.0,143.6 863.7,145.3C866.4,147.1 868.4,148.4 870.7,152.3C873.0,156.2 875.0,162.8 877.7,168.7C880.4,174.6 884.4,181.8 887.1,187.5C889.8,193.2 891.6,198.6 894.1,202.7C896.6,206.8 899.5,210.5 902.3,212.1C905.0,213.7 907.9,213.0 910.6,212.1C913.4,211.2 916.1,206.9 918.8,206.7C921.5,206.5 924.5,207.9 927.0,210.9C929.5,214.0 931.7,219.1 934.0,225.0C936.3,230.9 938.7,239.1 941.0,246.1C943.4,253.1 945.7,261.0 948.1,267.2C950.4,273.5 953.4,279.7 955.1,283.6C956.9,287.5 946.5,269.5 958.6,290.6C970.7,311.7 1013.2,385.1 1027.7,410.5C1042.3,435.8 1040.8,429.8 1046.1,442.8C1051.5,455.9 1055.2,474.3 1059.8,488.9C1064.4,503.5 1069.0,518.7 1073.7,530.2C1078.3,541.7 1082.2,550.1 1087.5,557.8C1092.9,565.5 1099.6,570.1 1105.7,576.3C1111.8,582.4 1118.8,585.5 1124.1,594.7C1129.5,603.9 1133.8,620.8 1138.0,631.6C1142.2,642.5 1144.9,648.6 1149.6,659.6C1154.3,670.6 1161.5,688.5 1166.3,697.7C1171.0,706.8 1173.7,710.8 1178.0,714.4C1182.4,718.0 1185.2,718.8 1192.3,719.2C1199.4,719.6 1208.9,716.2 1220.7,716.7C1232.6,717.3 1248.4,720.0 1263.4,722.4C1278.5,724.8 1295.1,728.1 1310.9,731.0C1326.7,733.8 1343.3,737.3 1358.3,739.6C1373.3,741.8 1386.8,743.7 1401.0,744.3C1415.2,744.9 1431.9,741.6 1443.7,743.0C1455.6,744.3 1462.7,748.2 1472.2,752.5C1481.7,756.8 1491.2,763.9 1500.6,769.1C1510.1,774.2 1518.8,779.4 1529.1,783.3C1539.4,787.3 1556.8,791.3 1562.3,792.9" fill="none" stroke="#484848" stroke-width="2.0" stroke-linejoin="round"/>
</g>
<g stroke="#606060" stroke-width="2.6" fill="none">
<path d="M646.3,8.5 V290.6 H1016"/>
<path d="M646.3,41.0 H654"/>
<path d="M646.3,91.4 H654"/>
<path d="M646.3,141.8 H654"/>
<path d="M646.3,192.2 H654"/>
<path d="M646.3,242.6 H654"/>
</g>
<g stroke="#606060" stroke-width="1.6" fill="none"><path d="M715.6,290.6 V284.5"/><path d="M892.3,290.6 V284.5"/></g>
<g font-family="Liberation Sans, sans-serif" fill="#3a3a3a" stroke="#3a3a3a" stroke-width="0.3" font-size="21.3">
<text x="635.1" y="42.0" text-anchor="end" dominant-baseline="central" textLength="38.2" lengthAdjust="spacingAndGlyphs">0.48</text>
<text x="635.1" y="92.4" text-anchor="end" dominant-baseline="central" textLength="38.2" lengthAdjust="spacingAndGlyphs">0.46</text>
<text x="635.1" y="142.8" text-anchor="end" dominant-baseline="central" textLength="38.2" lengthAdjust="spacingAndGlyphs">0.44</text>
<text x="635.1" y="193.2" text-anchor="end" dominant-baseline="central" textLength="38.2" lengthAdjust="spacingAndGlyphs">0.42</text>
<text x="635.1" y="243.6" text-anchor="end" dominant-baseline="central" textLength="27" lengthAdjust="spacingAndGlyphs">0.4</text>
<text x="714.3" y="319.9" text-anchor="middle" textLength="35" lengthAdjust="spacingAndGlyphs">668</text>
<text x="891.2" y="319.9" text-anchor="middle" textLength="33" lengthAdjust="spacingAndGlyphs">735</text>
</g>
</svg>
</body></html>
